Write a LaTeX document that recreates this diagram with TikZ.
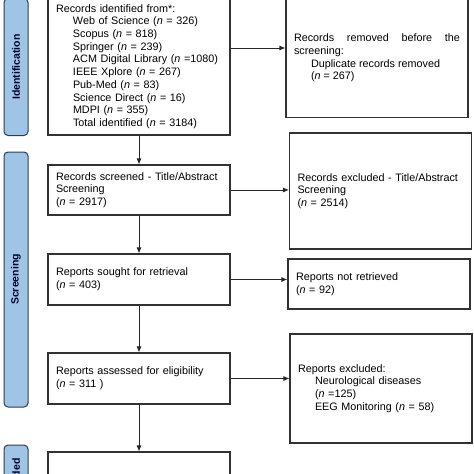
\documentclass[tikz,border=0pt]{standalone}
\usepackage{fontspec}
\setmainfont{Liberation Sans}
\usetikzlibrary{arrows.meta,positioning}

\definecolor{bandfill}{RGB}{160,196,230}
\definecolor{banddraw}{RGB}{45,60,80}
\definecolor{boxline}{RGB}{50,50,50}

\newcommand{\ind}{\hspace*{17pt}}
\newcommand{\nn}{\textit{n}}

\begin{document}
\begin{tikzpicture}[x=1pt,y=-1pt,>=Latex,
  box/.style={draw=boxline,line width=1.1pt,fill=white,inner xsep=8pt,inner ysep=0pt,
    text width=166pt,align=left,font=\fontsize{10.8}{12.7}\selectfont},
  band/.style={draw=banddraw,line width=1pt,fill=bandfill,rounded corners=4pt,rotate=90,
    minimum height=24pt,inner sep=0pt,font=\fontsize{10.5}{12}\selectfont\bfseries,text=black!80!blue},
  arr/.style={->,line width=0.9pt,draw=black!85,>={Latex[length=6pt,width=5pt]}}]
  \useasboundingbox (0,0) rectangle (474,474);
  \clip (0,0) rectangle (474,474);
  % phase bands
  \node[band,minimum width=137pt] (idband) at (16,67) {Identification};
  \node[band,minimum width=255pt] (scrband) at (16,279.5) {Screening};
  \node[band,minimum width=70pt] (inband) at (16,480) {Included};
  % left column
  \node[box,minimum height=137pt] (idbox) at (139,66.5) {Records identified from*:\\
    \ind Web of Science (\nn{} = 326)\\
    \ind Scopus (\nn{} = 818)\\
    \ind Springer (\nn{} = 239)\\
    \ind ACM Digital Library (\nn{} =1080)\\
    \ind IEEE Xplore (\nn{} = 267)\\
    \ind Pub-Med (\nn{} = 83)\\
    \ind Science Direct (\nn{} = 16)\\
    \ind MDPI (\nn{} = 355)\\
    \ind Total identified (\nn{} = 3184)};
  \node[box,minimum height=50pt] (scrbox) at (139,190) {Records screened - Title/Abstract\\
    Screening\\(\nn{} = 2917)};
  \node[box,minimum height=51pt] (soughtbox) at (139,279.5) {Reports sought for retrieval\\(\nn{} = 403)};
  \node[box,minimum height=51pt] (assessbox) at (139,378.5) {Reports assessed for eligibility\\(\nn{} = 311 )};
  \node[box,minimum height=60pt] (inclbox) at (139,482) {};
  % right column
  \node[box,minimum height=119pt,align=justify] (rembox) at (377,58) {Records removed before the screening:\\
    \ind Duplicate records removed\\
    \ind (\nn{} = 267)};
  \node[box,minimum height=116pt] (excbox) at (380.5,191) {Records excluded - Title/Abstract\\
    Screening\\(\nn{} = 2514)};
  \node[box,minimum height=50pt] (notbox) at (379,284) {Reports not retrieved\\(\nn{} = 92)};
  \node[box,minimum height=109pt] (exclbox) at (381,388.5) {Reports excluded:\\
    \ind Neurological diseases\\
    \ind (\nn{} =125)\\
    \ind EEG Monitoring (\nn{} = 58)};
  % arrows down
  \draw[arr] (idbox) -- (scrbox);
  \draw[arr] (scrbox) -- (soughtbox);
  \draw[arr] (soughtbox) -- (assessbox);
  \draw[arr] (assessbox) -- (inclbox);
  % arrows right
  \draw[arr] (idbox.east |- 0,48) -- (rembox.west |- 0,48);
  \draw[arr] (scrbox.east) -- (scrbox.east -| excbox.west);
  \draw[arr] (soughtbox.east) -- (soughtbox.east -| notbox.west);
  \draw[arr] (assessbox.east) -- (assessbox.east -| exclbox.west);
\end{tikzpicture}
\end{document}
